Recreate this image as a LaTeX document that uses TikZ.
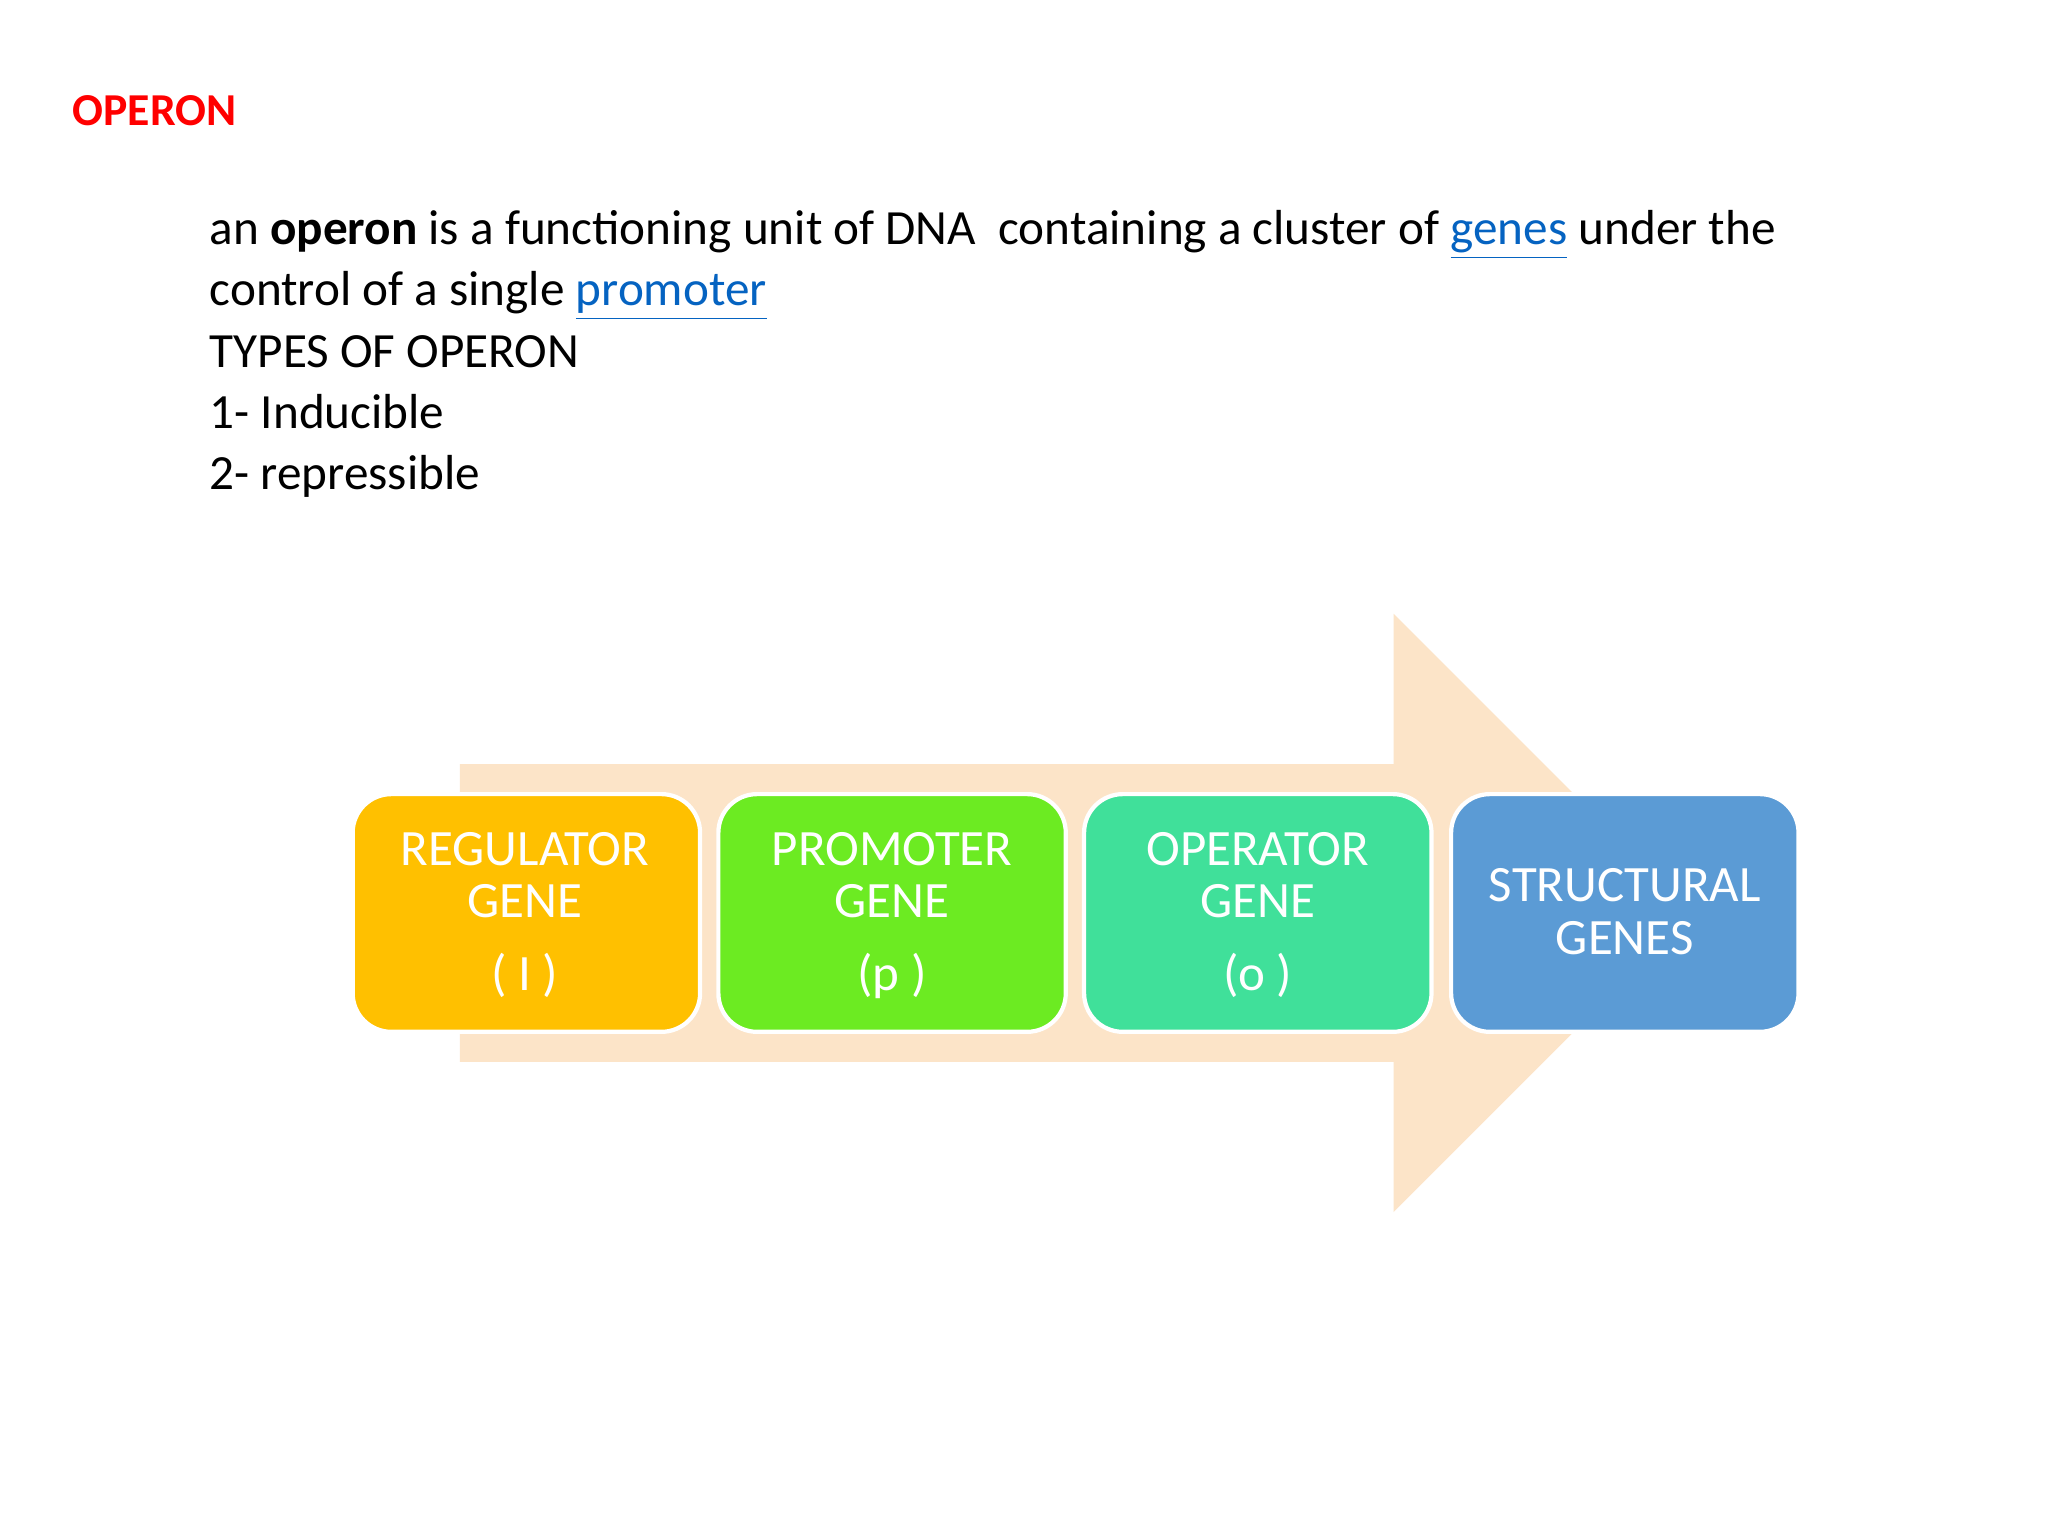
\documentclass[tikz,border=0pt]{standalone}
\usepackage{fontspec}
\setmainfont{Carlito}
\definecolor{peach}{HTML}{FCE4C8}
\definecolor{gold}{HTML}{FFC000}
\definecolor{lime}{HTML}{6CEB22}
\definecolor{mint}{HTML}{40E09A}
\definecolor{steel}{HTML}{5B9BD5}
\definecolor{link}{HTML}{0563C1}
\newcommand{\lnk}[1]{\textcolor{link}{\underline{#1}}}
\begin{document}
\begin{tikzpicture}[x=0.0130612cm,y=-0.0130612cm,
  gene/.style={draw=white,line width=1.2pt,rounded corners=11pt,minimum width=265\pgflinewidth,text=white,font=\fontsize{14.5}{16}\selectfont,align=center,inner sep=0pt},
  body/.style={anchor=base west,inner sep=0pt,font=\fontsize{14}{17}\selectfont}]
\useasboundingbox (0,0) rectangle (1568,1176);
\fill[white] (0,0) rectangle (1568,1176);
\node[anchor=base west,inner sep=0pt,text=red,font=\fontsize{13}{15}\selectfont\bfseries] (title) at (55,96) {OPERON};
\node[body] (l1) at (160,187) {an \textbf{operon} is a functioning unit of DNA\ \ containing a cluster of \lnk{genes} under the};
\node[body] (l2) at (160,234) {control of a single \lnk{promoter}};
\node[body] (l3) at (160,281) {TYPES OF OPERON};
\node[body] (l4) at (160,328) {1- Inducible};
\node[body] (l5) at (160,375) {2- repressible};
\fill[peach] (352,585) -- (1067,585) -- (1067,470) -- (1296,699) -- (1067,928) -- (1067,813) -- (352,813) -- cycle;
\foreach \n/\x/\c in {a/270/gold,b/550/lime,c/830/mint,d/1111/steel}{
  \filldraw[fill=\c,draw=white,line width=1.2pt,rounded corners=11pt] (\x,608) rectangle ++(266,182);
  \coordinate (\n) at (\x+133,699);
}
\tikzset{gt/.style={text=white,font=\fontsize{14.5}{16}\selectfont,inner sep=0pt}}
\node[gt] (a1) at (402,650) {REGULATOR};
\node[gt] (a2) at (402,690) {GENE};
\node[gt] (a3) at (402,747) {( I )};
\node[gt] (b1) at (683,650) {PROMOTER};
\node[gt] (b2) at (683,690) {GENE};
\node[gt] (b3) at (683,747) {(p )};
\node[gt] (c1) at (963,650) {OPERATOR};
\node[gt] (c2) at (963,690) {GENE};
\node[gt] (c3) at (963,747) {(o )};
\node[gt] (d1) at (1244,678) {STRUCTURAL};
\node[gt] (d2) at (1244,718) {GENES};
\end{tikzpicture}
\end{document}
